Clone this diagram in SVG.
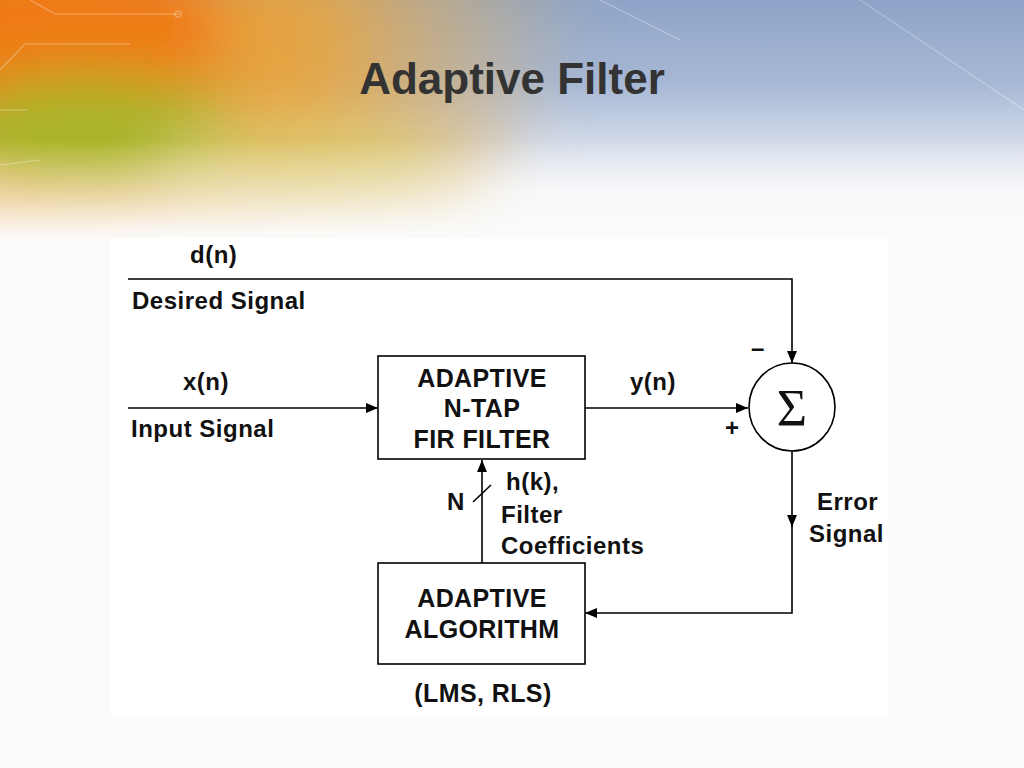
<svg xmlns="http://www.w3.org/2000/svg" width="1024" height="768" viewBox="0 0 1024 768">
<defs>
<linearGradient id="sky" x1="0" y1="0" x2="0" y2="1">
<stop offset="0" stop-color="#8ea4c8"/>
<stop offset="0.35" stop-color="#a7b8d5"/>
<stop offset="0.6" stop-color="#d3dbe9"/>
<stop offset="0.8" stop-color="#f3f5f8"/>
<stop offset="1" stop-color="#fbfbfb"/>
</linearGradient>
<linearGradient id="warm" x1="0" y1="0" x2="1" y2="0">
<stop offset="0" stop-color="#f08a1c"/>
<stop offset="0.55" stop-color="#e8a43c"/>
<stop offset="1" stop-color="#d8b878" stop-opacity="0"/>
</linearGradient>
<linearGradient id="fade" x1="0" y1="0" x2="0" y2="1">
<stop offset="0" stop-color="#fbfbfb" stop-opacity="0"/>
<stop offset="1" stop-color="#fbfbfb" stop-opacity="1"/>
</linearGradient>
<clipPath id="top"><rect x="0" y="0" width="1024" height="240"/></clipPath>
<filter id="blur" x="-50%" y="-50%" width="200%" height="200%"><feGaussianBlur stdDeviation="28"/></filter>
<marker id="arr" viewBox="0 0 12 10" refX="12" refY="5" markerWidth="12" markerHeight="10" markerUnits="userSpaceOnUse" orient="auto">
<path d="M0,0 L12,5 L0,10 Z" fill="#000"/>
</marker>
<style>
.lbl{font-family:"Liberation Sans",Arial,sans-serif;font-weight:bold;font-size:24px;fill:#111;letter-spacing:0.5px}
.box{font-family:"Liberation Sans",Arial,sans-serif;font-weight:bold;font-size:25px;fill:#111;text-anchor:middle;letter-spacing:0.4px}
.ln{stroke:#000;stroke-width:1.6;fill:none}
.nd{fill:#fff;stroke:#000;stroke-width:1.6}
</style>
</defs>
<rect x="0" y="0" width="1024" height="768" fill="#fbfbfb"/>
<g clip-path="url(#top)">
<rect x="0" y="0" width="1024" height="240" fill="url(#sky)"/>
<g filter="url(#blur)">
<path d="M-40,-40 L600,-40 C560,60 520,140 470,230 L-40,250 Z" fill="url(#warm)" opacity="0.95"/>
<ellipse cx="20" cy="30" rx="200" ry="90" fill="#f07a14"/>
<ellipse cx="90" cy="135" rx="150" ry="60" fill="#a9b52c"/>
<ellipse cx="300" cy="170" rx="150" ry="50" fill="#d9cf78" opacity="0.8"/>
</g>
<rect x="0" y="140" width="1024" height="100" fill="url(#fade)"/>
<g stroke="#fff" stroke-opacity="0.25" stroke-width="1.5" fill="none">
<path d="M30,0 L55,14 L180,14"/>
<circle cx="178" cy="14" r="3"/>
<path d="M0,70 L25,44 L130,44"/>
<path d="M0,110 L28,110"/>
<path d="M0,165 L40,160"/>
<path d="M600,0 L680,40"/>
<path d="M860,0 L1024,110"/>
</g>
</g>
<text x="512" y="94" text-anchor="middle" font-family="'Liberation Sans',Arial,sans-serif" font-weight="bold" font-size="44" fill="#333">Adaptive Filter</text>
<rect x="110" y="238" width="778" height="478" fill="#fff"/>

<g id="connectors">
<path class="ln" d="M128,279 H792 V363" marker-end="url(#arr)"/>
<path class="ln" d="M128,408 H378" marker-end="url(#arr)"/>
<path class="ln" d="M585,408 H748" marker-end="url(#arr)"/>
<path class="ln" d="M792,451 V527" marker-end="url(#arr)"/>
<path class="ln" d="M792,520 V613 H585" marker-end="url(#arr)"/>
<path class="ln" d="M482,563 V460" marker-end="url(#arr)"/>
<path class="ln" d="M473,502 L491,485" stroke-width="1.3"/>
</g>

<g id="fir">
<rect class="nd" x="378" y="356" width="207" height="103"/>
<text class="box" x="482" y="387">ADAPTIVE</text>
<text class="box" x="482" y="417">N-TAP</text>
<text class="box" x="482" y="448">FIR FILTER</text>
</g>
<g id="algorithm">
<rect class="nd" x="378" y="563" width="207" height="101"/>
<text class="box" x="482" y="607">ADAPTIVE</text>
<text class="box" x="482" y="638">ALGORITHM</text>
</g>
<g id="sum">
<ellipse class="nd" cx="792" cy="407" rx="43" ry="44"/>
<text x="792" y="426" text-anchor="middle" font-family="'Liberation Serif','Times New Roman',serif" font-size="52" fill="#111">Σ</text>
</g>

<g id="labels">
<text class="lbl" x="190" y="263">d(n)</text>
<text class="lbl" x="132" y="309">Desired Signal</text>
<text class="lbl" x="183" y="390">x(n)</text>
<text class="lbl" x="131" y="437">Input Signal</text>
<text class="lbl" x="630" y="390">y(n)</text>
<text class="lbl" x="751" y="356">–</text>
<text class="lbl" x="725" y="436">+</text>
<text class="lbl" x="817" y="510">Error</text>
<text class="lbl" x="809" y="542">Signal</text>
<text class="lbl" x="447" y="510">N</text>
<text class="lbl" x="506" y="490">h(k),</text>
<text class="lbl" x="501" y="523">Filter</text>
<text class="lbl" x="501" y="554">Coefficients</text>
<text class="box" x="483" y="702">(LMS, RLS)</text>
</g>
</svg>
